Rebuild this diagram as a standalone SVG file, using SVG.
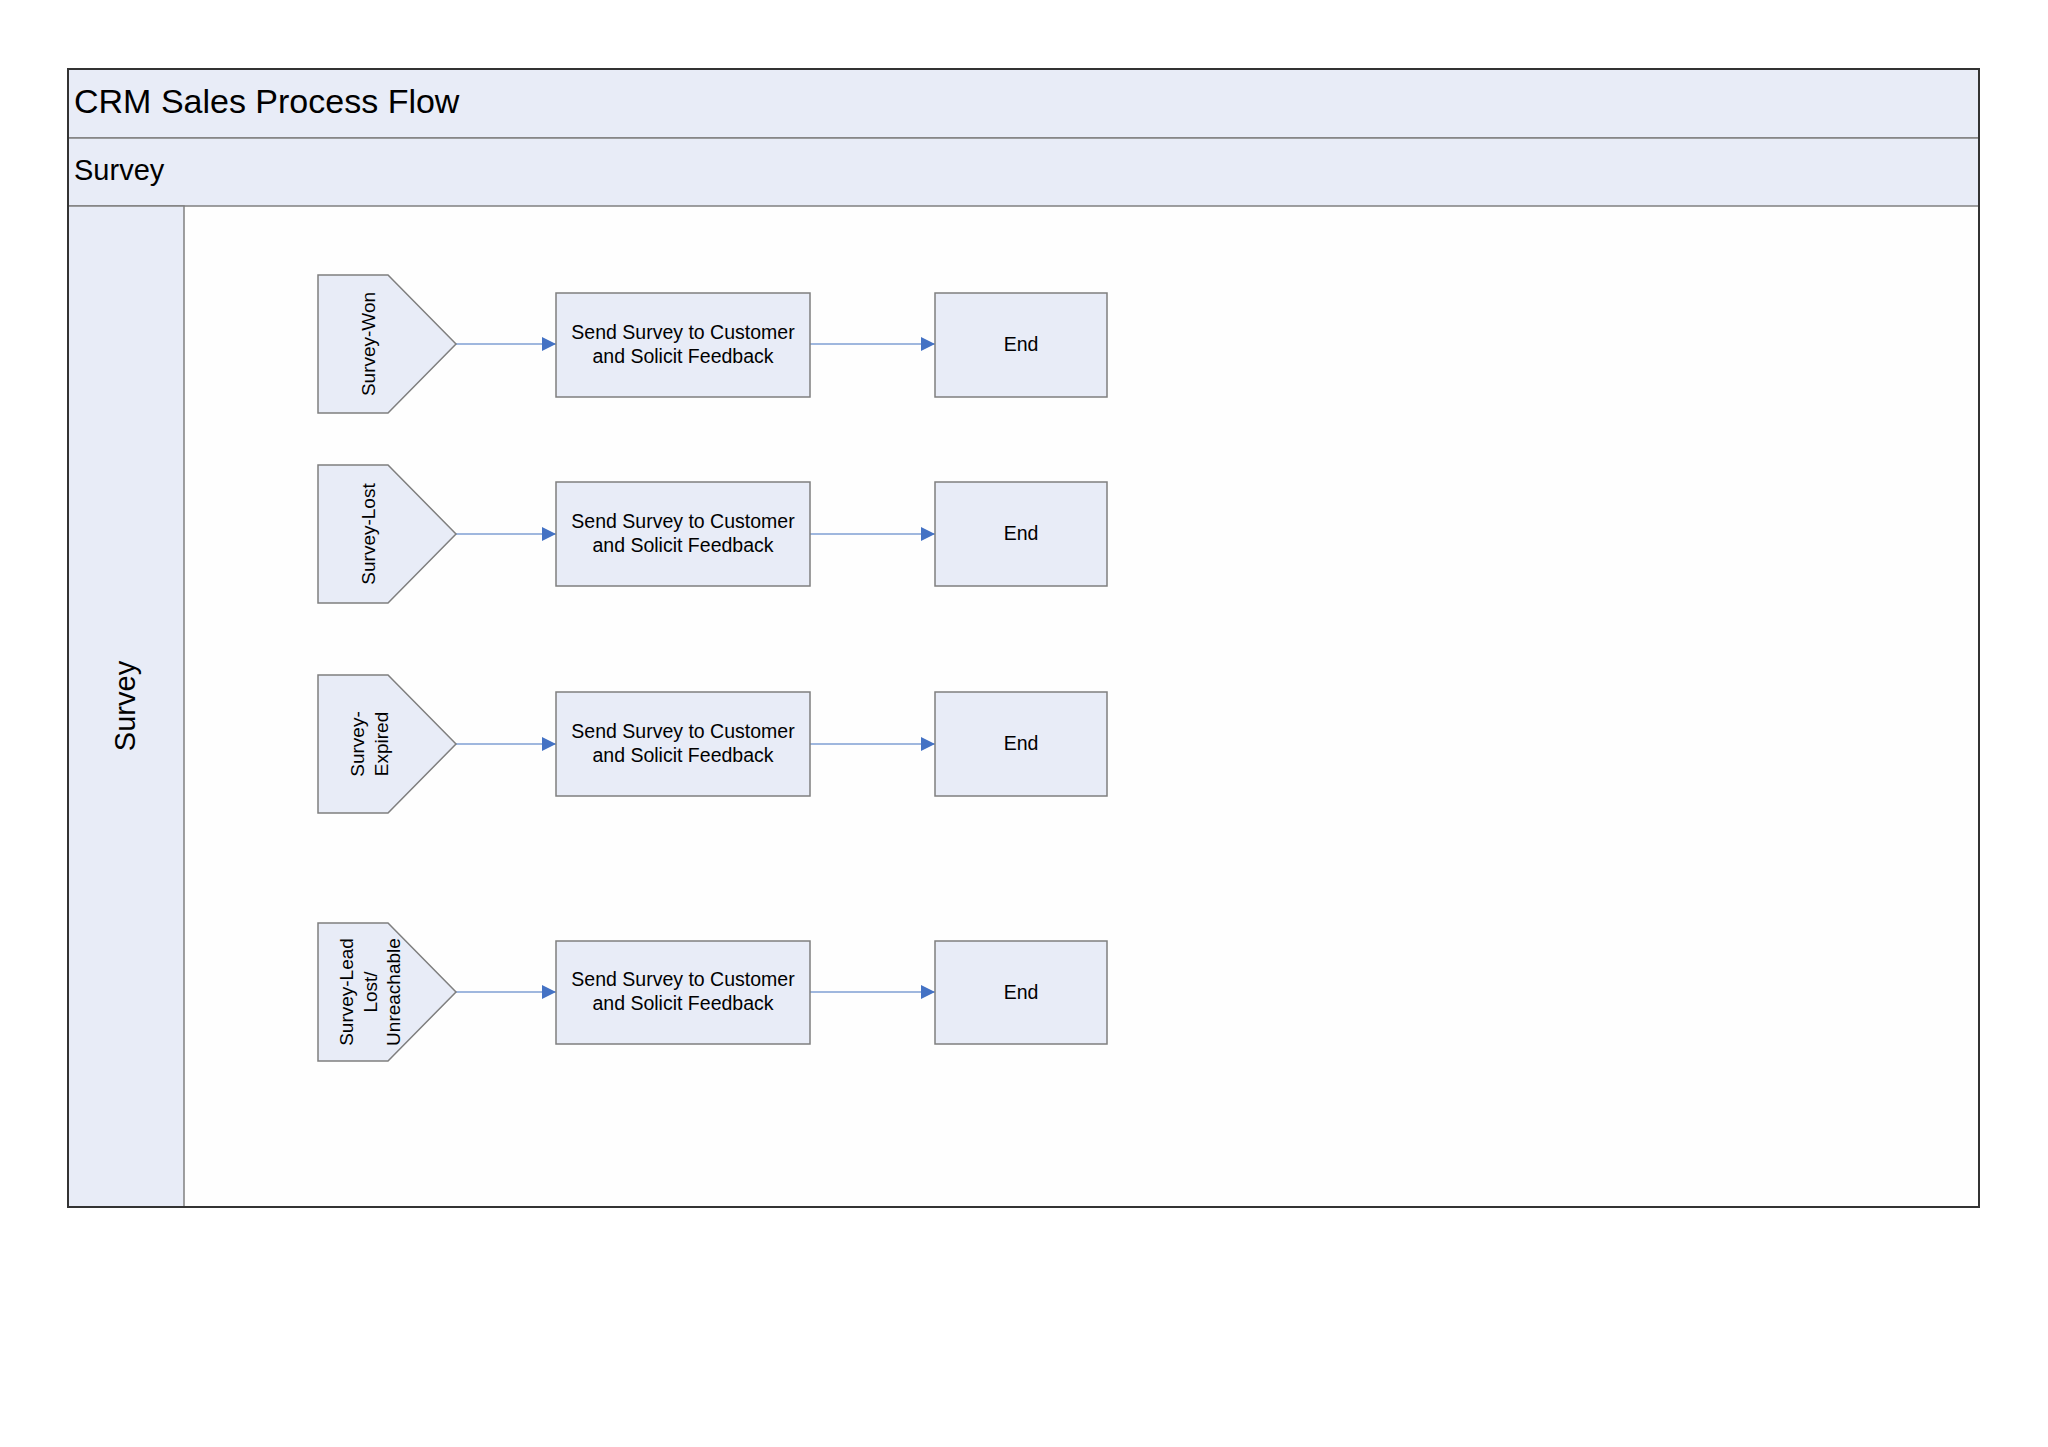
<svg xmlns="http://www.w3.org/2000/svg" width="2048" height="1447" viewBox="0 0 2048 1447">
  <style>
    .t{font-family:"Liberation Sans",Arial,sans-serif;fill:#000}
    .node{fill:#E8ECF7;stroke:#7F7F7F;stroke-width:1.5}
    .lane{fill:#E8ECF7;stroke:#808080;stroke-width:1.5}
    .conn{stroke:#7F9FD3;stroke-width:1.5;fill:none;marker-end:url(#arr)}
    .bx{font-size:19.5px;text-anchor:middle}
    .pt{font-size:19px;text-anchor:middle}
  </style>
  <defs>
    <marker id="arr" viewBox="0 0 10 10" refX="10" refY="5" markerWidth="14" markerHeight="14" markerUnits="userSpaceOnUse" orient="auto">
      <path d="M0,0 L10,5 L0,10 Z" fill="#4472C4"/>
    </marker>
  </defs>
  <rect width="2048" height="1447" fill="#FFFFFF"/>

  <g id="pool">
    <rect x="68" y="69" width="1911" height="1138" fill="#FEFEFE"/>
    <rect x="68" y="69" width="1911" height="69" class="lane"/>
    <rect x="68" y="138" width="1911" height="68" class="lane"/>
    <rect x="68" y="206" width="116" height="1001" class="lane"/>
    <rect x="68" y="69" width="1911" height="1138" fill="none" stroke="#333333" stroke-width="2"/>
    <text class="t" x="74" y="113" font-size="34">CRM Sales Process Flow</text>
    <text class="t" x="74" y="180" font-size="29">Survey</text>
    <text class="t" font-size="29" text-anchor="middle" transform="translate(135,706) rotate(-90)">Survey</text>
  </g>

  <g id="connectors">
    <line class="conn" x1="456" y1="344" x2="556" y2="344"/>
    <line class="conn" x1="810" y1="344" x2="935" y2="344"/>
    <line class="conn" x1="456" y1="534" x2="556" y2="534"/>
    <line class="conn" x1="810" y1="534" x2="935" y2="534"/>
    <line class="conn" x1="456" y1="744" x2="556" y2="744"/>
    <line class="conn" x1="810" y1="744" x2="935" y2="744"/>
    <line class="conn" x1="456" y1="992" x2="556" y2="992"/>
    <line class="conn" x1="810" y1="992" x2="935" y2="992"/>
  </g>

  <g id="start-won">
    <polygon class="node" points="318,275 388,275 456,344 388,413 318,413"/>
    <text class="t pt" transform="translate(375,344) rotate(-90)">Survey-Won</text>
  </g>
  <g id="task-won">
    <rect class="node" x="556" y="293" width="254" height="104"/>
    <text class="t bx" x="683" y="339">Send Survey to Customer</text>
    <text class="t bx" x="683" y="362.5">and Solicit Feedback</text>
  </g>
  <g id="end-won">
    <rect class="node" x="935" y="293" width="172" height="104"/>
    <text class="t bx" x="1021" y="351">End</text>
  </g>

  <g id="start-lost">
    <polygon class="node" points="318,465 388,465 456,534 388,603 318,603"/>
    <text class="t pt" transform="translate(375,534) rotate(-90)">Survey-Lost</text>
  </g>
  <g id="task-lost">
    <rect class="node" x="556" y="482" width="254" height="104"/>
    <text class="t bx" x="683" y="528">Send Survey to Customer</text>
    <text class="t bx" x="683" y="551.5">and Solicit Feedback</text>
  </g>
  <g id="end-lost">
    <rect class="node" x="935" y="482" width="172" height="104"/>
    <text class="t bx" x="1021" y="540">End</text>
  </g>

  <g id="start-expired">
    <polygon class="node" points="318,675 388,675 456,744 388,813 318,813"/>
    <text class="t pt" transform="translate(364,744) rotate(-90)">Survey-</text>
    <text class="t pt" transform="translate(388,744) rotate(-90)">Expired</text>
  </g>
  <g id="task-expired">
    <rect class="node" x="556" y="692" width="254" height="104"/>
    <text class="t bx" x="683" y="738">Send Survey to Customer</text>
    <text class="t bx" x="683" y="761.5">and Solicit Feedback</text>
  </g>
  <g id="end-expired">
    <rect class="node" x="935" y="692" width="172" height="104"/>
    <text class="t bx" x="1021" y="750">End</text>
  </g>

  <g id="start-lead-lost">
    <polygon class="node" points="318,923 388,923 456,992 388,1061 318,1061"/>
    <text class="t pt" transform="translate(353,992) rotate(-90)">Survey-Lead</text>
    <text class="t pt" transform="translate(377,992) rotate(-90)">Lost/</text>
    <text class="t pt" transform="translate(400,992) rotate(-90)">Unreachable</text>
  </g>
  <g id="task-lead-lost">
    <rect class="node" x="556" y="941" width="254" height="103"/>
    <text class="t bx" x="683" y="986">Send Survey to Customer</text>
    <text class="t bx" x="683" y="1009.5">and Solicit Feedback</text>
  </g>
  <g id="end-lead-lost">
    <rect class="node" x="935" y="941" width="172" height="103"/>
    <text class="t bx" x="1021" y="999">End</text>
  </g>
</svg>
